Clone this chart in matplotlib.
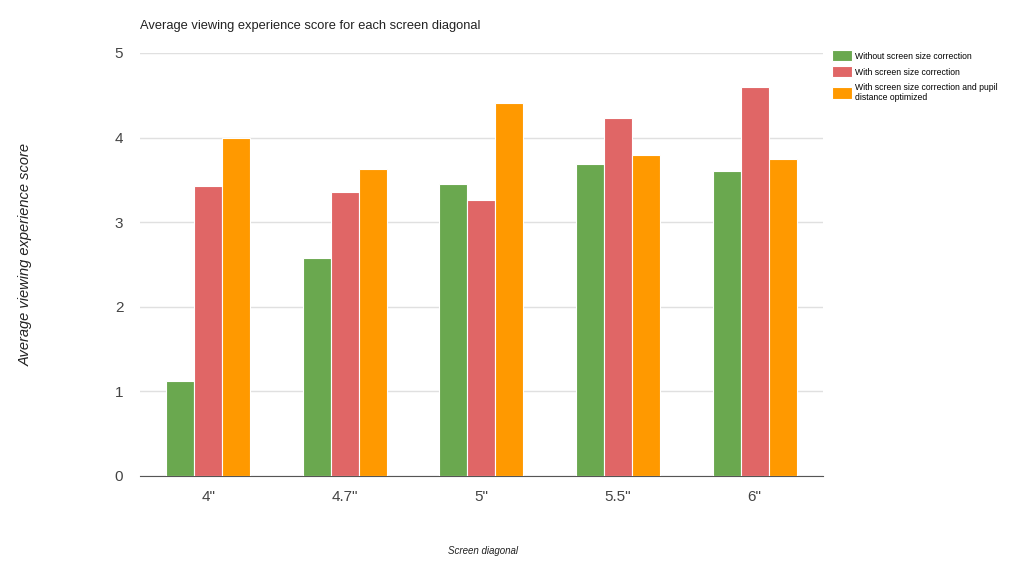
import numpy as np
import matplotlib
matplotlib.use('Agg')
import matplotlib.pyplot as plt

plt.rcParams['font.family'] = ['Liberation Sans', 'DejaVu Sans']

# data
diagonals = ['4"', '4.7"', '5"', '5.5"', '6"']
without_corr = [1.12, 2.58, 3.45, 3.69, 3.60]
with_corr = [3.43, 3.36, 3.26, 4.23, 4.60]
with_corr_pupil = [4.00, 3.63, 4.41, 3.79, 3.75]
series_names = ['Without screen size correction',
                'With screen size correction',
                'With screen size correction and pupil\ndistance optimized']
colors = ['#6aa84f', '#e06666', '#ff9900']

fig = plt.figure(figsize=(10.24, 5.79), dpi=100)
ax = fig.add_axes([0.1367, 0.178, 0.667, 0.7305])

x = np.arange(len(diagonals))
w = 0.205
for i, (vals, name, c) in enumerate(zip([without_corr, with_corr, with_corr_pupil], series_names, colors)):
    ax.bar(x + (i - 1) * w, vals, width=w, color=c, edgecolor='white', linewidth=0.8, label=name, zorder=3)

ax.set_xlim(-0.5, len(diagonals) - 0.5)
ax.set_ylim(0, 5)
ax.set_yticks(range(6))
ax.set_xticks(x)
ax.set_xticklabels(diagonals)
ax.grid(axis='y', color='#e0e0e0', linewidth=1, zorder=0)
for s in ['top', 'right', 'left']:
    ax.spines[s].set_visible(False)
ax.spines['bottom'].set_color('#555555')
ax.tick_params(axis='both', length=0, labelsize=11, colors='#444444', pad=10)
ax.tick_params(axis='y', pad=12)

fig.text(0.1367, 0.955, 'Average viewing experience score for each screen diagonal', fontsize=9.3, color='#222222', va='center')
fig.text(0.025, 0.56, 'Average viewing experience score', rotation=90, style='italic', fontsize=10.5, color='#222222', va='center', ha='center')
fig.text(0.472, 0.048, 'Screen diagonal', style='italic', fontsize=7, color='#222222', ha='center', va='center')

ax.legend(loc='upper left', bbox_to_anchor=(1.002, 1.025), frameon=False, fontsize=6.2,
          handlelength=2.3, handleheight=1.6, handletextpad=0.4, labelspacing=0.6)

fig.savefig('out.png', dpi=100)
